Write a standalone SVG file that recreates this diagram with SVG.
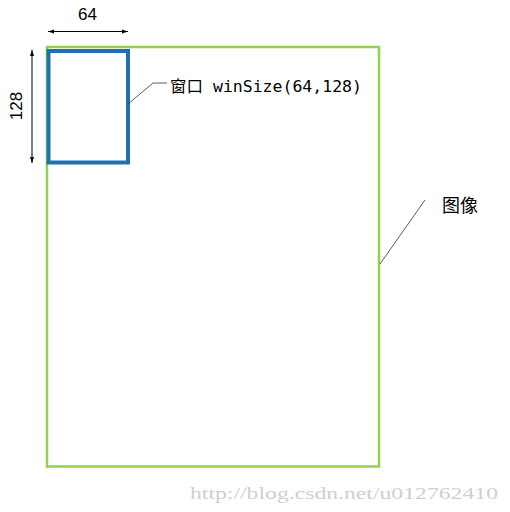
<svg xmlns="http://www.w3.org/2000/svg" width="510" height="512" viewBox="0 0 510 512">
<style>
.dim{stroke:#000;stroke-width:1;fill:none}
.lead{stroke:#333;stroke-width:0.8;fill:none}
.t{font-family:"Liberation Sans","Noto Sans CJK SC",sans-serif;fill:#000}
.m{font-family:"DejaVu Sans Mono","Noto Sans CJK SC",monospace;fill:#000}
</style>
<defs>
<marker id="ar" viewBox="0 0 6 6" refX="6" refY="3" markerWidth="6" markerHeight="6" orient="auto-start-reverse" markerUnits="userSpaceOnUse">
<path d="M0,1 L6,3 L0,5 Z" fill="#000"/>
</marker>
</defs>
<rect width="510" height="512" fill="#fff"/>
<g id="image">
<rect x="47" y="47" width="332" height="419.5" fill="none" stroke="#92d050" stroke-width="2.5"/>
<text class="t" x="442" y="212" font-size="18">图像</text>
</g>
<g id="window">
<rect x="48.5" y="51" width="79.5" height="111.5" fill="none" stroke="#1f70ae" stroke-width="4"/>
<text class="m" x="170" y="92" font-size="16" textLength="192" lengthAdjust="spacingAndGlyphs">窗口 winSize(64,128)</text>
</g>
<g id="dims">
<line class="dim" x1="48" y1="31.5" x2="128" y2="31.5" marker-start="url(#ar)" marker-end="url(#ar)"/>
<text class="t" x="87.5" y="20" font-size="17" text-anchor="middle">64</text>
<line class="dim" x1="32" y1="50" x2="32" y2="163" marker-start="url(#ar)" marker-end="url(#ar)"/>
<text class="t" transform="translate(21.5,106) rotate(-90)" font-size="17" text-anchor="middle">128</text>
</g>
<g id="connectors">
<polyline class="lead" points="128,104 153,83 167,83"/>
<line class="lead" x1="380" y1="264" x2="425" y2="200"/>
</g>
<text x="190" y="499" font-family="Liberation Serif,serif" font-size="17" fill="#cfcfcf" textLength="308" lengthAdjust="spacingAndGlyphs">http://blog.csdn.net/u012762410</text>
</svg>
